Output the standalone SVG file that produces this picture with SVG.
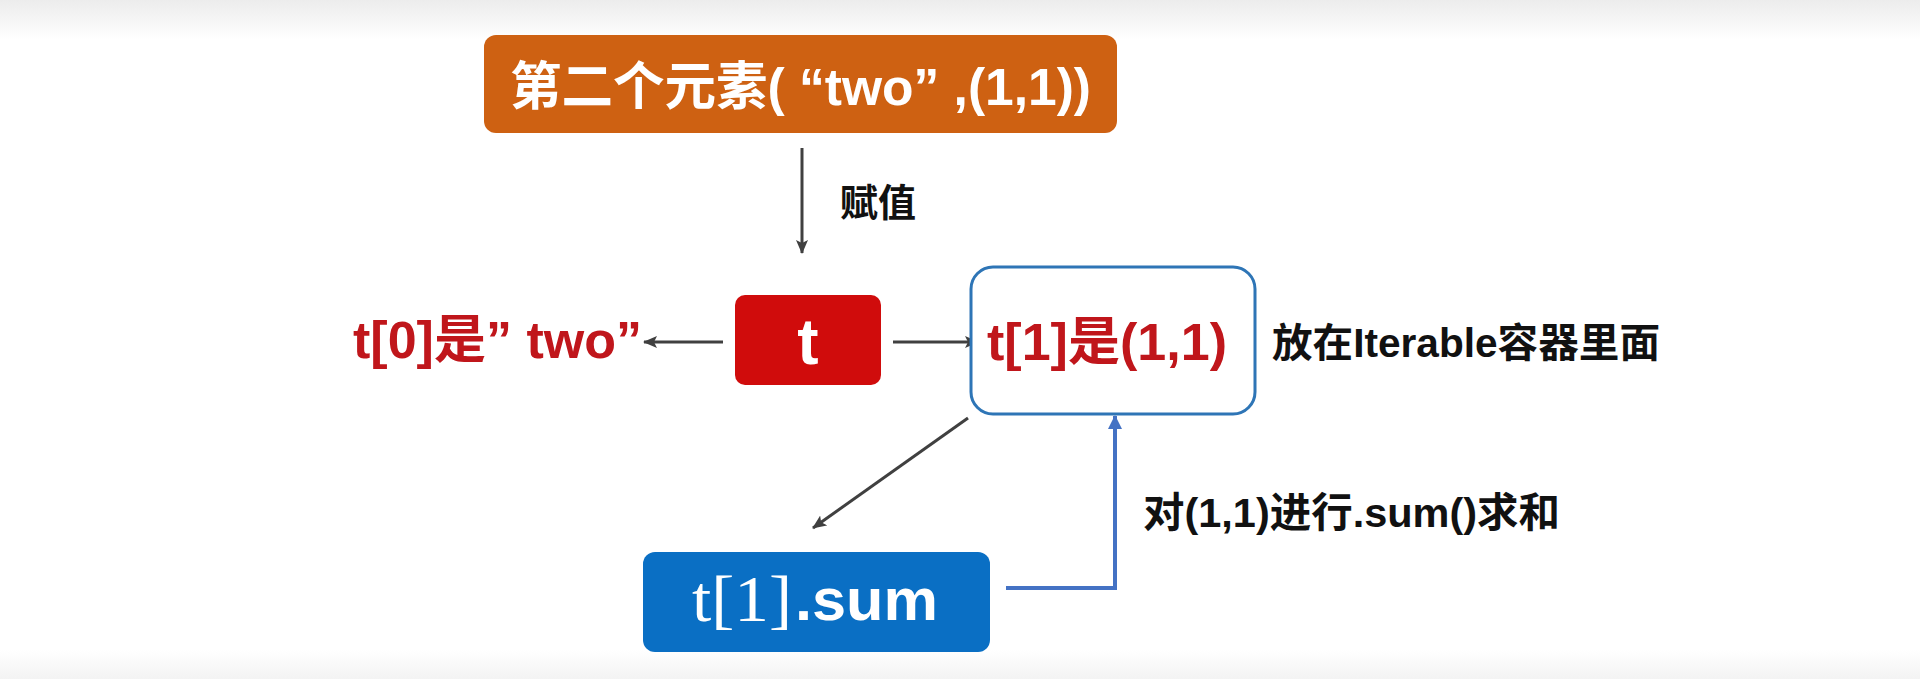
<svg xmlns="http://www.w3.org/2000/svg" width="1920" height="679" viewBox="0 0 1920 679">
<defs>
<linearGradient id="bgTop" x1="0" y1="0" x2="0" y2="1">
<stop offset="0" stop-color="#ececec"/>
<stop offset="1" stop-color="#ffffff"/>
</linearGradient>
<linearGradient id="bgBot" x1="0" y1="0" x2="0" y2="1">
<stop offset="0" stop-color="#ffffff"/>
<stop offset="1" stop-color="#f3f3f3"/>
</linearGradient>
<marker id="ahGrey" viewBox="0 0 14 12" refX="13" refY="6" markerWidth="14" markerHeight="12" markerUnits="userSpaceOnUse" orient="auto">
<path d="M0,0 L14,6 L0,12 L3,6 Z" fill="#404040"/>
</marker>
<marker id="ahBlue" viewBox="0 0 14 14" refX="13" refY="7" markerWidth="14" markerHeight="14" markerUnits="userSpaceOnUse" orient="auto">
<path d="M0,0 L14,7 L0,14 Z" fill="#4472C4"/>
</marker>
</defs>
<style>
.t{font-family:"Liberation Sans","Noto Sans CJK SC",sans-serif;font-weight:bold;}
.white{fill:#ffffff;}
.red{fill:#C0161B;}
.black{fill:#111111;}
.conn{stroke:#404040;stroke-width:3;fill:none;marker-end:url(#ahGrey);}
.connBlue{stroke:#4472C4;stroke-width:4;fill:none;marker-end:url(#ahBlue);}
</style>
<rect x="0" y="0" width="1920" height="679" fill="#ffffff"/>
<rect x="0" y="0" width="1920" height="40" fill="url(#bgTop)"/>
<rect x="0" y="650" width="1920" height="29" fill="url(#bgBot)"/>

<g id="connectors">
<line class="conn" x1="802" y1="148" x2="802" y2="253"/>
<line class="conn" x1="723" y1="342" x2="644" y2="342"/>
<line class="conn" x1="893" y1="342" x2="978" y2="342"/>
<line class="conn" x1="968" y1="418" x2="813" y2="528"/>
<path class="connBlue" d="M1006,588 H1115 V416"/>
</g>

<g id="node-element">
<rect x="484" y="35" width="633" height="98" rx="12" fill="#CE6112"/>
<text class="t white" x="510" y="105" font-size="52" textLength="581" lengthAdjust="spacingAndGlyphs">第二个元素( “two” ,(1,1))</text>
</g>

<g id="label-assign">
<text class="t black" x="840" y="216" font-size="38">赋值</text>
</g>

<g id="node-t">
<rect x="735" y="295" width="146" height="90" rx="10" fill="#D00C0C"/>
<text class="t white" x="808" y="364" font-size="64" text-anchor="middle">t</text>
</g>

<g id="node-t0">
<text class="t red" x="353" y="358" font-size="52" textLength="289" lengthAdjust="spacingAndGlyphs">t[0]是” two”</text>
</g>

<g id="node-t1">
<rect x="971" y="267" width="284" height="147" rx="22" fill="#ffffff" stroke="#2E75B6" stroke-width="3"/>
<text class="t red" x="987" y="360" font-size="52" textLength="240" lengthAdjust="spacingAndGlyphs">t[1]是(1,1)</text>
</g>

<g id="label-iterable">
<text class="t black" x="1272" y="357" font-size="40" textLength="388" lengthAdjust="spacingAndGlyphs">放在Iterable容器里面</text>
</g>

<g id="node-sum">
<rect x="643" y="552" width="347" height="100" rx="12" fill="#0A6FC4"/>
<text x="692" y="621" font-family="Liberation Serif, serif" font-size="66" fill="#ffffff" textLength="100" lengthAdjust="spacingAndGlyphs">t[1]</text>
<text class="t white" x="795" y="620" font-size="60" textLength="143" lengthAdjust="spacingAndGlyphs">.sum</text>
</g>

<g id="label-sum">
<text class="t black" x="1143" y="527" font-size="41" textLength="417" lengthAdjust="spacingAndGlyphs">对(1,1)进行.sum()求和</text>
</g>
</svg>
